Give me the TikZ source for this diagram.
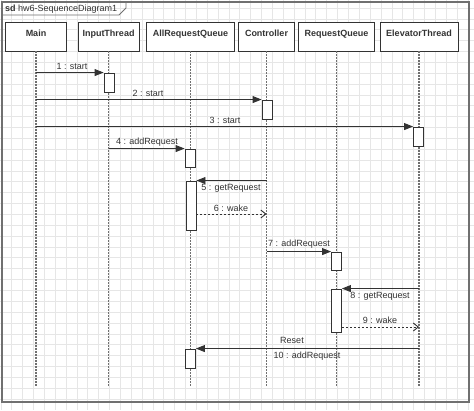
\documentclass[tikz,border=0pt]{standalone}
\usepackage{fontspec}
\setmainfont{Liberation Sans}
\usetikzlibrary{arrows.meta}
\definecolor{ink}{HTML}{333333}
\definecolor{gridc}{HTML}{E6E6E6}
\definecolor{framec}{HTML}{707070}
\definecolor{lifec}{HTML}{707070}
\tikzset{
  head/.style={draw=ink, line width=0.9pt, fill=white, minimum height=29pt, inner sep=0pt,
    font=\fontsize{9}{10}\selectfont\bfseries, text=ink, text height=6.5pt, text depth=7pt},
  act/.style={draw=ink, line width=0.9pt, fill=white, minimum width=10pt, inner sep=0pt},
  life/.style={draw=lifec, line width=1.1pt, dash pattern=on 1.5pt off 1.5pt},
  msg/.style={draw=ink, line width=0.9pt, -{Triangle[length=9pt,width=7pt]}},
  ret/.style={draw=ink, line width=0.9pt, dash pattern=on 2pt off 2pt, -{Straight Barb[length=5pt,width=8pt]}},
  lbl/.style={font=\fontsize{9}{10}\selectfont, text=ink, inner sep=0pt},
}
\begin{document}
\begin{tikzpicture}[x=1pt,y=-1pt]
\useasboundingbox (0,0) rectangle (474,410);
\fill[white] (0,0) rectangle (474,410);
% grid
\foreach \i in {0,...,43} \draw[gridc, line width=0.5pt] (0.8+\i*10.86,0) -- (0.8+\i*10.86,410);
\foreach \i in {0,...,37} \draw[gridc, line width=0.5pt] (0,7.96-10.86+\i*10.86) -- (474,7.96-10.86+\i*10.86);
% frame
\draw[framec, line width=1.4pt] (2,2) rectangle (469,402);
\draw[framec, line width=0.9pt] (2,15) -- (119,15) -- (126,8) -- (126,2);
\node[lbl, anchor=west] (title) at (5,9.5) {\textbf{sd} hw6-SequenceDiagram1};
% heads
\node[head, minimum width=61pt] (main) at (36,36.5) {Main};
\node[head, minimum width=61pt] (inp) at (108.5,36.5) {InputThread};
\node[head, minimum width=88pt] (arq) at (190.5,36.5) {AllRequestQueue};
\node[head, minimum width=56pt] (ctrl) at (266.5,36.5) {Controller};
\node[head, minimum width=76pt] (rq) at (336.5,36.5) {RequestQueue};
\node[head, minimum width=78pt] (elev) at (419,36.5) {ElevatorThread};
\coordinate (bottom) at (0,387);
\foreach \n in {main,inp,arq,ctrl,rq,elev} \draw[life] (\n.south) -- (\n.south |- bottom);
% activations
\node[act, minimum height=19pt] (a1) at (109,82.5) {};
\node[act, minimum height=19pt] (a2) at (267,109.5) {};
\node[act, minimum height=19pt] (a3) at (418.5,136.5) {};
\node[act, minimum height=18pt] (a4) at (190,158) {};
\node[act, minimum height=49pt] (a5) at (191,205.5) {};
\node[act, minimum height=18pt] (a7) at (336.5,261) {};
\node[act, minimum height=43pt] (a8) at (336.5,310.5) {};
\node[act, minimum height=19pt] (a10) at (190.5,358.5) {};
% messages
\draw[msg] (a1.north west -| main) -- (a1.north west);
\draw[msg] (a2.north west -| main) -- (a2.north west);
\draw[msg] (a3.north west -| main) -- (a3.north west);
\draw[msg] (a4.north west -| inp) -- (a4.north west);
\draw[msg] (a5.north east -| ctrl) -- (a5.north east);
\coordinate (w6) at ([yshift=-8.5pt]a5.east);
\draw[ret] (w6) -- (w6 -| ctrl);
\draw[msg] (a7.north west -| ctrl) -- (a7.north west);
\draw[msg] (a8.north east -| elev) -- (a8.north east);
\coordinate (w9) at ([yshift=-16.5pt]a8.east);
\draw[ret] (w9) -- (w9 -| elev);
\draw[msg] (a10.north east -| elev) -- (a10.north east);
% labels
\node[lbl] (l1) at (72,66) {1 : start};
\node[lbl] (l2) at (148,93) {2 : start};
\node[lbl] (l3) at (225,120) {3 : start};
\node[lbl] (l4) at (147,142) {4 : addRequest};
\node[lbl] (l5) at (231,188) {5 : getRequest};
\node[lbl] (l6) at (231,208) {6 : wake};
\node[lbl] (l7) at (299,244.5) {7 : addRequest};
\node[lbl] (l8) at (380,296) {8 : getRequest};
\node[lbl] (l9) at (380,320) {9 : wake};
\node[lbl] (lr) at (292,340) {Reset};
\node[lbl] (l10) at (307,356) {10 : addRequest};
\end{tikzpicture}
\end{document}
